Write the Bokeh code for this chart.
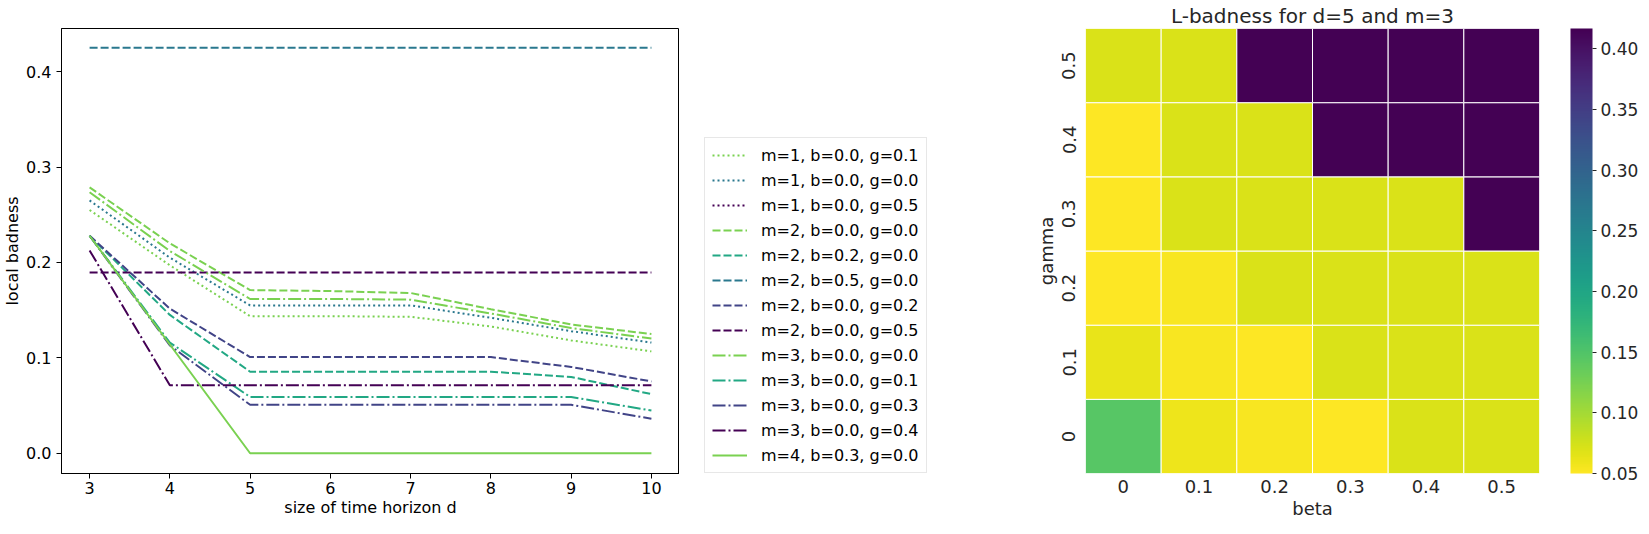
import math

from bokeh.embed import file_html
from bokeh.layouts import row
from bokeh.models import (ColorBar, ColumnDataSource, FixedTicker, Legend,
                          LegendItem, LinearColorMapper, NumeralTickFormatter)
from bokeh.palettes import Viridis256
from bokeh.plotting import figure
from bokeh.resources import INLINE
from bokeh.transform import transform

FONT = "DejaVu Sans"
NAN = math.nan

# ---- left chart: local badness over the time horizon ----
horizon = [3, 4, 5, 6, 7, 8, 9, 10]

m1_b00_g01 = [0.255, 0.197, 0.1437, 0.1437, 0.143, 0.1329, 0.1183, 0.1068]
m1_b00_g00 = [0.265, 0.205, 0.155, 0.155, 0.155, 0.142, 0.128, 0.116]
m1_b00_g05 = [NAN, NAN, NAN, NAN, NAN, NAN, NAN, NAN]
m2_b00_g00 = [0.2787, 0.220, 0.171, 0.170, 0.168, 0.151, 0.135, 0.125]
m2_b02_g00 = [0.228, 0.145, 0.0855, 0.0855, 0.0855, 0.0855, 0.080, 0.062]
m2_b05_g00 = [0.425, 0.425, 0.425, 0.425, 0.425, 0.425, 0.425, 0.425]
m2_b00_g02 = [0.228, 0.1516, 0.1008, 0.1008, 0.1008, 0.1008, 0.0905, 0.0753]
m2_b00_g05 = [0.1895, 0.1895, 0.1895, 0.1895, 0.1895, 0.1895, 0.1895, 0.1895]
m3_b00_g00 = [0.2736, 0.212, 0.1617, 0.1617, 0.161, 0.1465, 0.1312, 0.1203]
m3_b00_g01 = [0.228, 0.116, 0.059, 0.059, 0.059, 0.059, 0.059, 0.0448]
m3_b00_g03 = [0.228, 0.113, 0.0508, 0.0508, 0.0508, 0.0508, 0.0508, 0.0362]
m3_b00_g04 = [0.2126, 0.0712, 0.0712, 0.0712, 0.0712, 0.0712, 0.0712, 0.0712]
m4_b03_g00 = [0.228, 0.114, 0.0, 0.0, 0.0, 0.0, 0.0, 0.0]

series_labels = [
    "m=1, b=0.0, g=0.1", "m=1, b=0.0, g=0.0", "m=1, b=0.0, g=0.5",
    "m=2, b=0.0, g=0.0", "m=2, b=0.2, g=0.0", "m=2, b=0.5, g=0.0",
    "m=2, b=0.0, g=0.2", "m=2, b=0.0, g=0.5", "m=3, b=0.0, g=0.0",
    "m=3, b=0.0, g=0.1", "m=3, b=0.0, g=0.3", "m=3, b=0.0, g=0.4",
    "m=4, b=0.3, g=0.0",
]
series_values = [
    m1_b00_g01, m1_b00_g00, m1_b00_g05, m2_b00_g00, m2_b02_g00, m2_b05_g00,
    m2_b00_g02, m2_b00_g05, m3_b00_g00, m3_b00_g01, m3_b00_g03, m3_b00_g04,
    m4_b03_g00,
]

y_ticks = [0.0, 0.1, 0.2, 0.3, 0.4]

# ---- right chart: heatmap for d=5, m=3 ----
beta_labels = ["0", "0.1", "0.2", "0.3", "0.4", "0.5"]
gamma_labels = ["0", "0.1", "0.2", "0.3", "0.4", "0.5"]
# rows: gamma 0 .. 0.5, columns: beta 0 .. 0.5
badness_g00 = [0.145, 0.060, 0.054, 0.050, 0.0714, 0.0714]
badness_g01 = [0.062, 0.054, 0.051, 0.0714, 0.0714, 0.0714]
badness_g02 = [0.051, 0.053, 0.0714, 0.0714, 0.0714, 0.0714]
badness_g03 = [0.050, 0.0714, 0.0714, 0.0714, 0.0714, 0.4167]
badness_g04 = [0.050, 0.0714, 0.0714, 0.4167, 0.4167, 0.4167]
badness_g05 = [0.0714, 0.0714, 0.4167, 0.4167, 0.4167, 0.4167]
badness_rows = [badness_g00, badness_g01, badness_g02,
                badness_g03, badness_g04, badness_g05]

cbar_low = 0.05
cbar_high = 0.4167
cbar_ticks = [0.05, 0.10, 0.15, 0.20, 0.25, 0.30, 0.35, 0.40]

# line styles (colour, dash) per series
PURPLE, INDIGO, BLUE, TEAL, GREEN = "#440154", "#414487", "#2a788e", "#22a884", "#7ad151"
DOT, DASH, DASHDOT = "2 3", "8 3", "13 3 2 3"
styles = [
    (GREEN, DOT), (BLUE, DOT), (PURPLE, DOT),
    (GREEN, DASH), (TEAL, DASH), (BLUE, DASH), (INDIGO, DASH), (PURPLE, DASH),
    (GREEN, DASHDOT), (TEAL, DASHDOT), (INDIGO, DASHDOT), (PURPLE, DASHDOT),
    (GREEN, "solid"),
]

FRAME_H = 445
LINE_FRAME_W = 618
HEAT_FRAME_W = 454
TOP, BOTTOM = 20, 52

# declare line figure
p = figure(
    frame_width=LINE_FRAME_W, frame_height=FRAME_H,
    x_range=(2.65, 10.35), y_range=(-0.0212, 0.4452),
    output_backend="svg", toolbar_location=None,
    min_border_left=56, min_border_top=TOP, min_border_bottom=BOTTOM,
    min_border_right=0,
)
p.grid.visible = False
p.outline_line_color = "black"
p.outline_line_width = 1

for values, (color, dash) in zip(series_values, styles):
    p.line(horizon, values, line_color=color, line_width=2, line_dash=dash)

for ax in (p.xaxis[0], p.yaxis[0]):
    ax.major_label_text_font = FONT
    ax.major_label_text_font_size = "16px"
    ax.major_label_text_color = "black"
    ax.axis_label_text_font = FONT
    ax.axis_label_text_font_size = "16px"
    ax.axis_label_text_font_style = "normal"
    ax.axis_label_text_color = "black"
    ax.major_tick_out = 5
    ax.major_tick_in = 0
    ax.minor_tick_out = 0
    ax.minor_tick_in = 0
    ax.axis_line_color = "black"
    ax.major_tick_line_color = "black"

p.xaxis.ticker = FixedTicker(ticks=horizon)
p.xaxis.axis_label = "size of time horizon d"
p.xaxis.major_label_standoff = 3
p.xaxis.axis_label_standoff = 1
p.yaxis.ticker = FixedTicker(ticks=y_ticks)
p.yaxis.formatter = NumeralTickFormatter(format="0.0")
p.yaxis.axis_label = "local badness"
p.yaxis.major_label_standoff = 5
p.yaxis.axis_label_standoff = 1

# legend panel: a bare figure next to the line chart that only holds the legend;
# its copies of the series lie outside its ranges, so only the legend shows
lg = figure(
    frame_width=261, frame_height=FRAME_H,
    x_range=(0, 1), y_range=(0, 1),
    output_backend="svg", toolbar_location=None,
    min_border_left=25, min_border_right=0,
    min_border_top=TOP, min_border_bottom=BOTTOM,
)
lg.axis.visible = False
lg.grid.visible = False
lg.outline_line_color = None

items = []
for label, values, (color, dash) in zip(series_labels, series_values, styles):
    r = lg.line(horizon, values, line_color=color, line_width=2, line_dash=dash)
    items.append(LegendItem(label=label, renderers=[r]))

legend = Legend(items=items, location="bottom_left")
legend.label_text_font = FONT
legend.label_text_font_size = "16px"
legend.label_text_color = "black"
legend.glyph_width = 35
legend.glyph_height = 20
legend.label_height = 20
legend.label_standoff = 14
legend.spacing = 5
legend.padding = 7
legend.margin = 0
legend.border_line_color = "#d0d0d0"
legend.border_line_width = 1
legend.background_fill_alpha = 0.8
lg.add_layout(legend)

# declare heatmap figure
mapper = LinearColorMapper(palette=Viridis256[::-1], low=cbar_low, high=cbar_high)

xs, ys, vals = [], [], []
for gi, row_values in enumerate(badness_rows):
    for bi, v in enumerate(row_values):
        xs.append(bi + 0.5)
        ys.append(gi + 0.5)
        vals.append(v)
source = ColumnDataSource(dict(x=xs, y=ys, val=vals))

h = figure(
    frame_width=HEAT_FRAME_W, frame_height=FRAME_H,
    x_range=(0, 6), y_range=(0, 6),
    output_backend="svg", toolbar_location=None,
    title="L-badness for d=5 and m=3",
    min_border_left=120, min_border_top=TOP, min_border_bottom=BOTTOM,
    min_border_right=0,
)
h.grid.visible = False
h.outline_line_color = None
h.rect(x="x", y="y", width=1, height=1, source=source,
       fill_color=transform("val", mapper), line_color="white", line_width=1)

h.title.text_font = FONT
h.title.text_font_size = "20px"
h.title.text_font_style = "normal"
h.title.text_color = "#262626"
h.title.align = "center"
h.title.standoff = 2

centers = [0.5, 1.5, 2.5, 3.5, 4.5, 5.5]
for ax, labels in ((h.xaxis[0], beta_labels), (h.yaxis[0], gamma_labels)):
    ax.ticker = FixedTicker(ticks=centers)
    ax.major_label_overrides = {c: lab for c, lab in zip(centers, labels)}
    ax.major_label_text_font = FONT
    ax.major_label_text_font_size = "18px"
    ax.major_label_text_color = "#262626"
    ax.axis_label_text_font = FONT
    ax.axis_label_text_font_size = "18px"
    ax.axis_label_text_font_style = "normal"
    ax.axis_label_text_color = "#262626"
    ax.axis_line_color = None
    ax.major_tick_line_color = None
    ax.minor_tick_line_color = None
    ax.major_tick_out = 0
    ax.major_tick_in = 0

h.xaxis.axis_label = "beta"
h.xaxis.major_label_standoff = 6
h.xaxis.axis_label_standoff = 2
h.yaxis.axis_label = "gamma"
h.yaxis.major_label_orientation = "vertical"
h.yaxis.major_label_standoff = 10
h.yaxis.axis_label_standoff = 3

color_bar = ColorBar(
    color_mapper=mapper,
    ticker=FixedTicker(ticks=cbar_ticks),
    formatter=NumeralTickFormatter(format="0.00"),
    location=(31, 0), width=22, height=FRAME_H,
    padding=0, margin=0,
    major_tick_out=4, major_tick_in=0,
    major_tick_line_color="#262626",
    major_label_text_font=FONT,
    major_label_text_font_size="17px",
    major_label_text_color="#262626",
    label_standoff=4,
    bar_line_color=None,
)
h.add_layout(color_bar, "right")

layout = row(p, lg, h)
open("out.html", "w").write(file_html(layout, INLINE))
